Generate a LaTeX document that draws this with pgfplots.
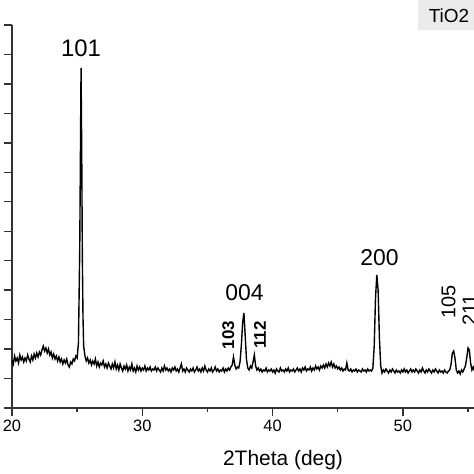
\documentclass[border=0pt]{standalone}
\usepackage{pgfplots}
\pgfplotsset{compat=1.18}
\usepackage{fontspec}
\setmainfont{Liberation Sans}
\begin{document}
\begin{tikzpicture}
\begin{axis}[
  scale only axis, width=462bp, height=383bp,
  xmin=20, xmax=55.46, ymin=0, ymax=383,
  axis x line*=bottom, axis y line*=left,
  axis line style={line width=1.4bp, black!80},
  tick style={line width=1.4bp, black!80},
  tick align=outside,
  xtick={20,30,40,50}, minor xtick={25,35,45,55},
  major tick length=8bp, minor tick length=4bp,
  ytick={0,29.4615,...,384}, yticklabels={},
  /pgf/number format/assume math mode=true,
  ticklabel style={font=\fontsize{16.5}{19}\selectfont},
  xlabel={2Theta (deg)},
  xlabel style={font=\fontsize{21}{25}\selectfont, at={(rel axis cs:0.5866,0)}, anchor=center, yshift=-52bp},
  clip=true,
]
\addplot[black, line width=1.4bp] coordinates {
(20.0,48)(20.1,44)(20.2,52)(20.3,47)(20.4,50)(20.5,45)(20.6,53)(20.7,48)(20.8,51)(20.9,46)
(21.0,50)(21.1,47)(21.2,53)(21.3,49)(21.4,46)(21.5,52)(21.6,48)(21.7,54)(21.8,50)(21.9,55)
(22.0,51)(22.1,56)(22.2,53)(22.3,58)(22.4,62)(22.5,57)(22.6,60)(22.7,55)(22.8,59)(22.9,53)
(23.0,56)(23.1,50)(23.2,54)(23.3,49)(23.4,52)(23.5,47)(23.6,51)(23.7,46)(23.8,49)(23.9,44)
(24.0,48)(24.1,45)(24.2,49)(24.3,43)(24.4,41)(24.5,46)(24.6,44)(24.7,49)(24.8,47)(24.9,52)
(25.0,50)(25.1,65)(25.2,160)(25.25,250)(25.3,340)(25.35,260)(25.4,150)(25.45,90)(25.5,62)(25.6,52)
(25.7,47)(25.8,50)(25.9,45)(26.0,48)(26.1,43)(26.2,47)(26.3,44)(26.4,49)(26.5,42)(26.6,46)
(26.7,41)(26.8,45)(26.9,43)(27.0,47)(27.1,41)(27.2,44)(27.3,40)(27.4,45)(27.5,42)(27.6,39)
(27.7,44)(27.8,40)(27.9,46)(28.0,39)(28.1,43)(28.2,38)(28.3,44)(28.4,40)(28.5,37)(28.6,42)
(28.7,39)(28.8,43)(28.9,37)(29.0,41)(29.1,38)(29.2,44)(29.3,37)(29.4,40)(29.5,36)(29.6,42)
(29.7,38)(29.8,41)(29.9,37)(30.0,40)(30.1,38)(30.2,42)(30.3,37)(30.4,40)(30.5,38)(30.6,41)
(30.7,37)(30.8,39)(30.9,38)(31.0,41)(31.1,37)(31.2,40)(31.3,38)(31.4,36)(31.5,40)(31.6,37)
(31.7,42)(31.8,38)(31.9,40)(32.0,37)(32.1,39)(32.2,36)(32.3,40)(32.4,38)(32.5,41)(32.6,37)
(32.7,39)(32.8,36)(32.9,40)(33.0,44)(33.1,37)(33.2,39)(33.3,36)(33.4,40)(33.5,38)(33.6,36)
(33.7,39)(33.8,37)(33.9,40)(34.0,36)(34.1,38)(34.2,41)(34.3,37)(34.4,39)(34.5,36)(34.6,40)
(34.7,37)(34.8,42)(34.9,38)(35.0,36)(35.1,39)(35.2,37)(35.3,40)(35.4,36)(35.5,38)(35.6,41)
(35.7,37)(35.8,39)(35.9,36)(36.0,38)(36.1,37)(36.2,40)(36.3,36)(36.4,39)(36.5,37)(36.6,40)
(36.7,38)(36.8,41)(36.9,43)(37.0,51)(37.1,43)(37.2,39)(37.3,41)(37.4,40)(37.5,46)(37.6,62)
(37.7,85)(37.8,95)(37.9,72)(38.0,48)(38.1,40)(38.2,38)(38.3,42)(38.4,40)(38.5,46)(38.6,53)
(38.7,42)(38.8,38)(38.9,40)(39.0,37)(39.1,39)(39.2,36)(39.3,38)(39.4,37)(39.5,40)(39.6,36)
(39.7,38)(39.8,37)(39.9,39)(40.0,36)(40.1,38)(40.2,35)(40.3,39)(40.4,37)(40.5,36)(40.6,40)
(40.7,37)(40.8,38)(40.9,36)(41.0,39)(41.1,37)(41.2,40)(41.3,36)(41.4,38)(41.5,37)(41.6,39)
(41.7,36)(41.8,38)(41.9,40)(42.0,37)(42.1,39)(42.2,36)(42.3,40)(42.4,38)(42.5,41)(42.6,37)
(42.7,39)(42.8,38)(42.9,41)(43.0,37)(43.1,40)(43.2,38)(43.3,42)(43.4,39)(43.5,41)(43.6,38)
(43.7,42)(43.8,40)(43.9,43)(44.0,40)(44.1,44)(44.2,41)(44.3,45)(44.4,42)(44.5,46)(44.6,41)
(44.7,44)(44.8,40)(44.9,42)(45.0,39)(45.1,41)(45.2,38)(45.3,40)(45.4,37)(45.5,39)(45.6,38)
(45.7,45)(45.8,38)(45.9,37)(46.0,39)(46.1,36)(46.2,38)(46.3,37)(46.4,39)(46.5,36)(46.6,38)
(46.7,37)(46.8,36)(46.9,39)(47.0,37)(47.1,38)(47.2,36)(47.3,39)(47.4,37)(47.5,38)(47.6,37)
(47.7,40)(47.8,62)(47.9,110)(48.0,133)(48.1,118)(48.2,70)(48.3,42)(48.4,35)(48.5,38)(48.6,36)
(48.7,39)(48.8,37)(48.9,35)(49.0,38)(49.1,36)(49.2,39)(49.3,37)(49.4,35)(49.5,38)(49.6,36)
(49.7,37)(49.8,35)(49.9,38)(50.0,36)(50.1,39)(50.2,36)(50.3,38)(50.4,35)(50.5,37)(50.6,39)
(50.7,36)(50.8,38)(50.9,36)(51.0,39)(51.1,37)(51.2,35)(51.3,38)(51.4,36)(51.5,40)(51.6,37)
(51.7,35)(51.8,38)(51.9,36)(52.0,39)(52.1,37)(52.2,35)(52.3,38)(52.4,36)(52.5,39)(52.6,37)
(52.7,35)(52.8,38)(52.9,36)(53.0,37)(53.1,35)(53.2,38)(53.3,36)(53.4,35)(53.5,37)(53.6,38)
(53.7,44)(53.8,55)(53.9,57)(54.0,50)(54.1,38)(54.2,35)(54.3,37)(54.4,34)(54.5,38)(54.6,36)
(54.7,39)(54.8,42)(54.9,50)(55.0,60)(55.1,58)(55.2,45)(55.3,38)(55.4,41)(55.5,37)
};
\node[font=\fontsize{24}{28}\selectfont] at (axis cs:25.3,360) {101};
\node[font=\fontsize{23}{27}\selectfont] at (axis cs:37.85,115) {004};
\node[font=\fontsize{23}{27}\selectfont] at (axis cs:48.2,150) {200};
\node[font=\bfseries\fontsize{17}{20}\selectfont, rotate=90] at (axis cs:36.6,73) {103};
\node[font=\bfseries\fontsize{17}{20}\selectfont, rotate=90] at (axis cs:39.03,73) {112};
\node[font=\fontsize{20}{24}\selectfont, rotate=90] at (axis cs:53.5,106) {105};
\node[font=\fontsize{20}{24}\selectfont, rotate=90] at (axis cs:55.1,98) {211};
\end{axis}
\fill[black!8] (406bp,378bp) rectangle (470bp,408bp);
\node[font=\fontsize{19}{23}\selectfont] at (437bp,392bp) {TiO2};
\pgfresetboundingbox
\useasboundingbox (-12bp,-66bp) rectangle (462bp,408bp);
\end{tikzpicture}
\end{document}
